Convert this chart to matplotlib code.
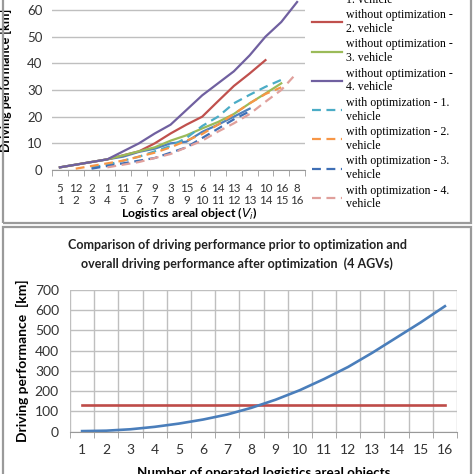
import numpy as np
import matplotlib
matplotlib.use("Agg")
import matplotlib.pyplot as plt
from matplotlib.patches import Rectangle

SANS = ["Lato", "DejaVu Sans"]
NARROW = ["Liberation Sans Narrow", "Lato", "DejaVu Sans"]
SERIF = ["Liberation Serif", "DejaVu Serif"]
plt.rcParams["font.family"] = SANS

# ---- top chart: driving performance per vehicle ----
obj_order = ["5", "12", "2", "1", "11", "7", "9", "3", "15", "6", "14", "13", "4", "10", "16", "8"]
obj_index = [str(i) for i in range(1, 17)]
nan = np.nan

wo_1 = [1, 2, 3, 4, 5, 6.8, 8, 10, 10.6, 14.3, 17, 20, 23, nan, nan, nan]
wo_2 = [1, 2, 3, 4, 5.5, 7, 10, 13.7, 17, 20, 25.8, 31.5, 36.2, 41.2, nan, nan]
wo_3 = [1, 2, 3, 4, 5.5, 7, 8.5, 11, 13, 15.6, 18, 21, 25, 28.7, 32.5, nan]
wo_4 = [1, 2, 3, 4, 7, 10, 13.7, 17, 22.5, 28, 32.5, 37, 43, 50, 55.5, 63]
w_1 = [nan, nan, 1, 2, 3.5, 5, 7, 9, 12, 16.5, 20, 25, 28.2, 31.2, 33.8, nan]
w_2 = [nan, 0.5, 1.5, 2.5, 3.5, 5, 6.5, 8.5, 11, 13.5, 17, 21, 25, 28.5, 31, nan]
w_3 = [nan, nan, 0.5, 1.5, 2.5, 3.5, 4.5, 6.5, 8.5, 12, 15.5, 19, 22, nan, nan, nan]
w_4 = [nan, nan, nan, 1, 2, 3, 4.5, 6, 8.5, 11, 14.4, 17.5, 21, 25.6, 30, 36.5]

top_series = [
    ("without optimization -\n1. vehicle", wo_1, "#4F81BD", "-"),
    ("without optimization -\n2. vehicle", wo_2, "#C0504D", "-"),
    ("without optimization -\n3. vehicle", wo_3, "#9BBB59", "-"),
    ("without optimization -\n4. vehicle", wo_4, "#7060A0", "-"),
    ("with optimization - 1.\nvehicle", w_1, "#4BACC6", "--"),
    ("with optimization - 2.\nvehicle", w_2, "#F79646", "--"),
    ("with optimization - 3.\nvehicle", w_3, "#3F6FB5", "--"),
    ("with optimization - 4.\nvehicle", w_4, "#E0A09C", "--"),
]

# ---- bottom chart: total driving performance ----
n_objects = list(range(1, 17))
after_opt = [3, 5, 12, 24, 40, 60, 85, 118, 158, 205, 260, 320, 390, 465, 540, 620]
prior_opt = [132] * 16

W = 474
fig = plt.figure(figsize=(4.74, 4.74), dpi=100)

# panel frames
for (x0, y0, x1, y1) in [(3, -5, 471, 223), (3, 227, 471, 480)]:
    fig.patches.append(Rectangle((x0 / W, 1 - y1 / W), (x1 - x0) / W, (y1 - y0) / W,
                                 transform=fig.transFigure, fill=False,
                                 edgecolor="#9a9a9a", linewidth=1.6))

# ===== top axes =====
ax = fig.add_axes([52 / W, 1 - 170 / W, 253 / W, 170 / W])
x = np.arange(1, 17)
for label, vals, col, ls in top_series:
    ax.plot(x, vals, color=col, linestyle=ls, linewidth=1.6,
            dashes=(4, 2.5) if ls == "--" else (None, None), label=label)
ax.set_xlim(0.5, 16.5)
ax.set_ylim(0, 63.75)
ax.set_yticks(range(0, 70, 10))
ax.yaxis.grid(True, color="#BFBFBF", linewidth=1)
ax.set_axisbelow(True)
ax.set_xticks(x)
ax.set_xticklabels([f"{a}\n{b}" for a, b in zip(obj_order, obj_index)],
                   linespacing=1.2)
ax.set_xticks(np.arange(0.5, 17, 1), minor=True)
ax.tick_params(axis="x", which="major", length=0, pad=9, labelsize=8.3, colors="#333333")
ax.tick_params(axis="x", which="minor", length=4, color="#999999")
ax.tick_params(axis="y", length=0, pad=7, labelsize=9.5, colors="#333333")
for s in ["top", "right", "left"]:
    ax.spines[s].set_visible(False)
ax.spines["bottom"].set_color("#999999")
ax.set_xlabel(r"Logistics areal object ($\it{V_i}$)", fontsize=8.8, fontweight="bold")
ax.xaxis.set_label_coords((189 - 52) / 253, -36 / 170)
ax.set_ylabel("Driving performance [km]", fontsize=9, fontweight="bold", family=NARROW)
ax.yaxis.set_label_coords(-40 / 253, (170 - 80) / 170)

leg = ax.legend(loc="upper left", bbox_to_anchor=(307 / W, 1 + 25 / W),
                bbox_transform=fig.transFigure, frameon=False,
                prop={"family": SERIF, "size": 8.6}, handlelength=2.5,
                handletextpad=0.35, labelspacing=0.29, borderaxespad=0)

# ===== bottom axes =====
bx = fig.add_axes([70 / W, 1 - 431.7 / W, 387 / W, 141.7 / W])
bx.plot(n_objects, prior_opt, color="#BE4B48", linewidth=1.9)
bx.plot(n_objects, after_opt, color="#4A7EBB", linewidth=1.9)
bx.set_xlim(0.5, 16.5)
bx.set_ylim(0, 700)
bx.set_yticks(range(0, 800, 100))
bx.set_xticks(n_objects)
bx.set_xticks(np.arange(0.5, 17, 1), minor=True)
bx.yaxis.grid(True, color="#BFBFBF", linewidth=1)
bx.xaxis.grid(True, which="minor", color="#BFBFBF", linewidth=1)
bx.set_axisbelow(True)
bx.tick_params(axis="x", which="major", length=0, pad=9, labelsize=10, colors="#333333")
bx.tick_params(axis="x", which="minor", length=4, color="#999999")
bx.tick_params(axis="y", length=0, pad=8, labelsize=10, colors="#333333")
for s in ["top", "right", "left"]:
    bx.spines[s].set_visible(False)
bx.spines["bottom"].set_color("#999999")
bx.set_ylabel("Driving performance  [km]", fontsize=10, fontweight="bold")
bx.yaxis.set_label_coords(-41 / 387, 0.5)
bx.set_xlabel("Number of operated logistics areal objects", fontsize=9.6,
              fontweight="bold", labelpad=8)
bx.set_title("Comparison of driving performance prior to optimization and\n"
             "overall driving performance after optimization  (4 AGVs)",
             fontsize=9, fontweight="bold", color="#222222", pad=16, linespacing=1.6,
             x=(237 - 70) / 387)

fig.savefig("out.png", dpi=100)
